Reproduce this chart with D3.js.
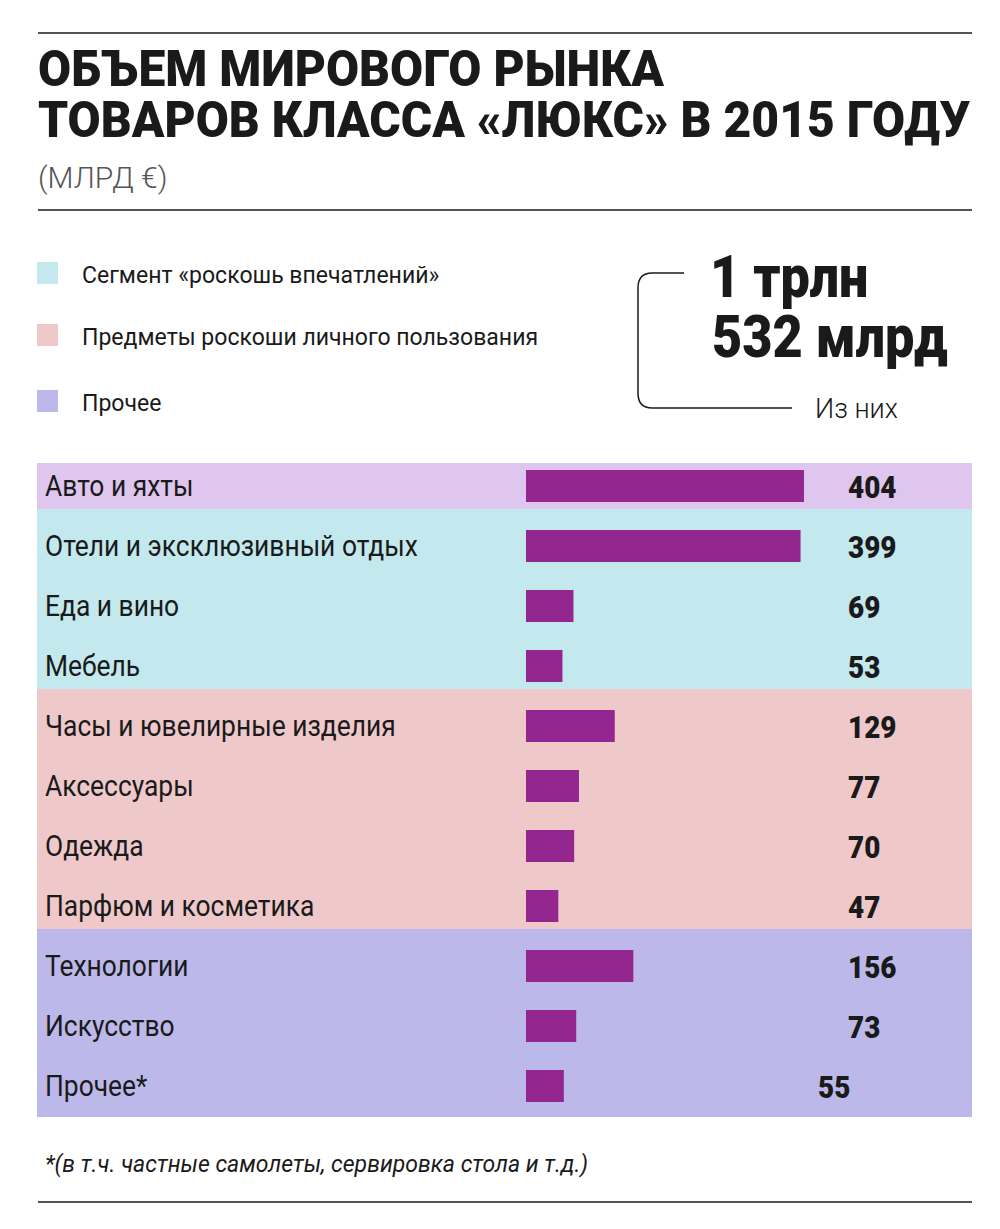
<!DOCTYPE html>
<html><head><meta charset="utf-8">
<script src="https://cdn.jsdelivr.net/npm/d3@7"></script>
<style>body{margin:0;background:#fff}text{font-family:Roboto,"Noto Sans",sans-serif}</style>
</head><body><div id="graphic"></div>
<script>
var categories = ['Авто и яхты','Отели и эксклюзивный отдых','Еда и вино','Мебель','Часы и ювелирные изделия','Аксессуары','Одежда','Парфюм и косметика','Технологии','Искусство','Прочее*'];
var values = [404,399,69,53,129,77,70,47,156,73,55];
var groups = ['auto','exp','exp','exp','pers','pers','pers','pers','other','other','other'];
var groupColours = {auto:'#dfc6ee', exp:'#c3e8ee', pers:'#efc9ca', other:'#bcb9ea'};
var legend = [['Сегмент «роскошь впечатлений»','#c3e8ee'],['Предметы роскоши личного пользования','#efc9ca'],['Прочее','#bcb9ea']];

var svg = d3.select('#graphic').append('svg').attr('width',1000).attr('height',1229);

// condensed-looking text via horizontal squeeze
function txt(x, y, s, size, weight, fill, sx, style) {
	return svg.append('g').attr('transform','translate('+x+','+y+') scale('+(sx||0.8)+',1)')
		.append('text').text(s).attr('font-size',size).attr('font-weight',weight||400)
		.attr('fill',fill||'#1a1a1a').attr('font-style',style||'normal');
}

[33,210,1202].forEach(function(y){
	svg.append('line').attr('x1',38).attr('x2',972).attr('y1',y).attr('y2',y).attr('stroke','#1a1a1a').attr('stroke-width',1.5);
});

txt(38,86,'ОБЪЕМ МИРОВОГО РЫНКА',50,900,'#1a1a1a',0.96);
txt(38,137,'ТОВАРОВ КЛАССА «ЛЮКС» В 2015 ГОДУ',50,900,'#1a1a1a',0.96);
txt(38,188,'(МЛРД €)',30,300,'#555',1.0);

legend.forEach(function(d,i){
	var y = [262,324,390][i];
	svg.append('rect').attr('x',37).attr('y',y).attr('width',21).attr('height',22).attr('fill',d[1]);
	txt(82,y+21,d[0],24,400,'#1a1a1a',0.96);
});

txt(710,297,'1 трлн',60,900,'#1a1a1a',0.87);
txt(712,357,'532 млрд',60,900,'#1a1a1a',0.87);
txt(815,418,'Из них',27,300,'#1a1a1a',1.0);
svg.append('path').attr('d','M684,273 H652 Q638,273 638,288 V393 Q638,408 652,408 H792')
	.attr('fill','none').attr('stroke','#1a1a1a').attr('stroke-width',1.5);

var y = d3.scalePoint().domain(d3.range(categories.length)).range([486,1086]);
var x = d3.scaleLinear().domain([0,404]).range([526,804]);
var n = categories.length;

svg.selectAll('rect.bg').data(categories).join('rect').attr('class','bg')
	.attr('x',37).attr('width',935)
	.attr('y',function(d,i){return i===0?463:y(i)-37;})
	.attr('height',function(d,i){var top=i===0?463:y(i)-37; var bot=i===n-1?1117:y(i)+23.5; return bot-top;})
	.attr('fill',function(d,i){return groupColours[groups[i]];});

svg.selectAll('rect.bar').data(values).join('rect').attr('class','bar')
	.attr('x',x(0)).attr('y',function(d,i){return y(i)-16;})
	.attr('width',function(d){return x(d)-x(0);}).attr('height',32).attr('fill','#93278f');

categories.forEach(function(c,i){
	var cy = y(i)+10;
	txt(45,cy,c,29,400,'#1a1a1a',0.91);
	txt(i===n-1?818:848,cy+2,values[i],32,900,'#1a1a1a',0.87);
});

txt(45,1172,'*(в т.ч. частные самолеты, сервировка стола и т.д.)',23,400,'#1a1a1a',1.0,'italic');
</script></body></html>
